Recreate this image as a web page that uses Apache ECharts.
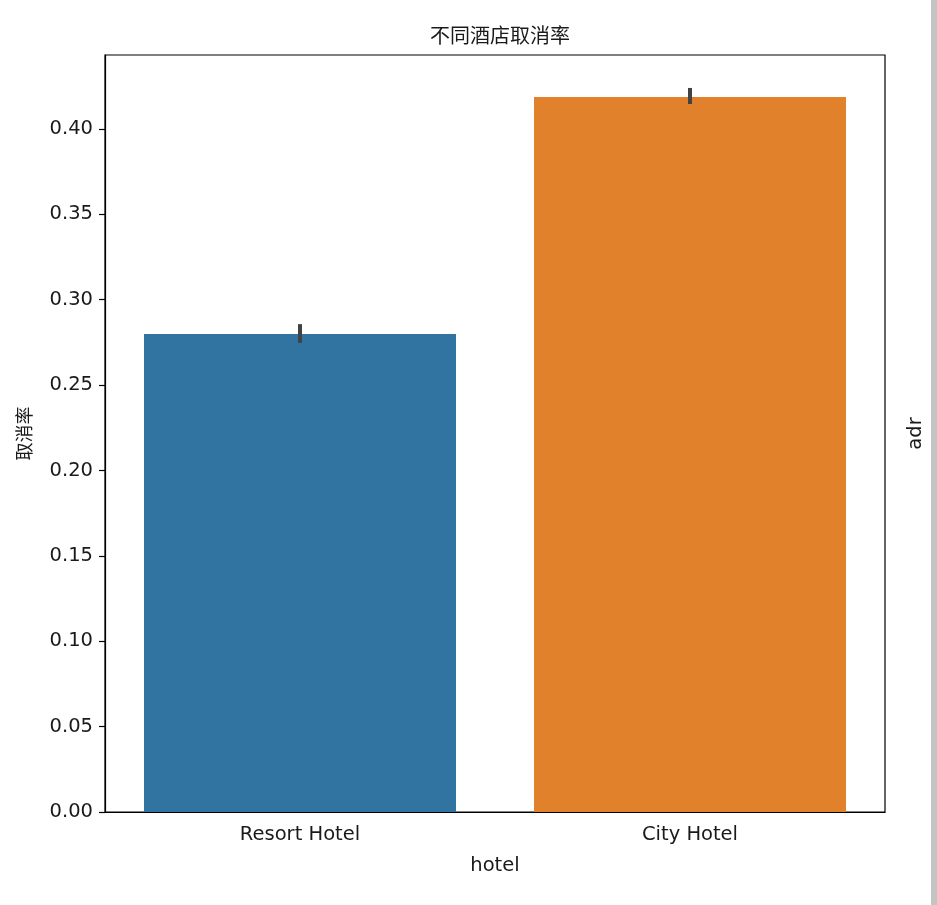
<!DOCTYPE html>
<html>
<head>
<meta charset="utf-8">
<script src="https://cdn.jsdelivr.net/npm/echarts@6/dist/echarts.min.js"></script>
<style>
html,body{margin:0;padding:0;background:#fff;overflow:hidden;}
#chart{position:absolute;left:0;top:0;width:937px;height:905px;}
#edge{position:absolute;left:931px;top:0;width:6px;height:905px;background:#c4c4c4;}
</style>
</head>
<body>
<div id="chart"></div>
<div id="edge"></div>
<script>
const categories = ['Resort Hotel', 'City Hotel'];
const values = [0.2799, 0.4187];
const errLow = [0.2747, 0.4146];
const errHigh = [0.2857, 0.4240];
const barColors = ['#3274a1', '#e1812c'];
const yTicks = [0, 0.05, 0.10, 0.15, 0.20, 0.25, 0.30, 0.35, 0.40];
const titleText = '不同酒店取消率';
const yName = '取消率';
const xName = 'hotel';
const y2Name = 'adr';

const FONT = 'DejaVu Sans';
const FS = 19.5;
const TXT = '#1a1a1a';
const chart = echarts.init(document.getElementById('chart'), null, {width: 937, height: 905});
chart.setOption({
  animation: false,
  textStyle: {fontFamily: FONT},
  title: {
    text: titleText, left: 495, top: 20, textAlign: 'center',
    textStyle: {fontFamily: 'Noto Sans CJK SC', fontSize: 20, fontWeight: 'normal', color: TXT}
  },
  grid: {left: 105, width: 780, top: 55, height: 757, show: true, borderColor: '#000', borderWidth: 1.2, backgroundColor: 'transparent'},
  xAxis: {
    type: 'category', data: categories,
    name: xName, nameLocation: 'middle', nameGap: 44,
    nameTextStyle: {fontFamily: FONT, fontSize: FS, color: TXT},
    axisLine: {lineStyle: {color: '#000', width: 1.2}},
    axisTick: {alignWithLabel: true, length: 6, lineStyle: {color: '#000', width: 1.2}},
    axisLabel: {fontFamily: FONT, fontSize: FS, color: TXT, margin: 13},
    splitLine: {show: false}
  },
  yAxis: [{
    type: 'value', min: 0, max: 0.4433, interval: 0.05,
    name: yName, nameLocation: 'middle', nameGap: 72, nameRotate: 90,
    nameTextStyle: {fontFamily: 'Noto Sans CJK SC', fontSize: 18, color: TXT},
    axisLine: {show: true, lineStyle: {color: '#000', width: 1.2}},
    axisTick: {show: true, length: 6, customValues: yTicks, lineStyle: {color: '#000', width: 1.2}},
    axisLabel: {fontFamily: FONT, fontSize: FS, color: TXT, margin: 12, customValues: yTicks,
      formatter: v => v.toFixed(2)},
    splitLine: {show: false}
  }, {
    type: 'value', position: 'right', min: 0, max: 1,
    name: y2Name, nameLocation: 'middle', nameGap: 21, nameRotate: 90,
    nameTextStyle: {fontFamily: FONT, fontSize: FS, color: TXT},
    axisLine: {show: false}, axisTick: {show: false}, axisLabel: {show: false}, splitLine: {show: false}
  }],
  series: [{
    type: 'bar', barWidth: '80%',
    data: values.map((v, i) => ({value: v, itemStyle: {color: barColors[i]}}))
  }, {
    type: 'custom', z: 10,
    data: categories.map((c, i) => [i, errLow[i], errHigh[i]]),
    renderItem: (params, api) => {
      const p1 = api.coord([api.value(0), api.value(1)]);
      const p2 = api.coord([api.value(0), api.value(2)]);
      return {type: 'line', shape: {x1: p1[0], y1: p1[1], x2: p2[0], y2: p2[1]},
        style: {stroke: '#424242', lineWidth: 4}};
    }
  }]
});
</script>
</body>
</html>
